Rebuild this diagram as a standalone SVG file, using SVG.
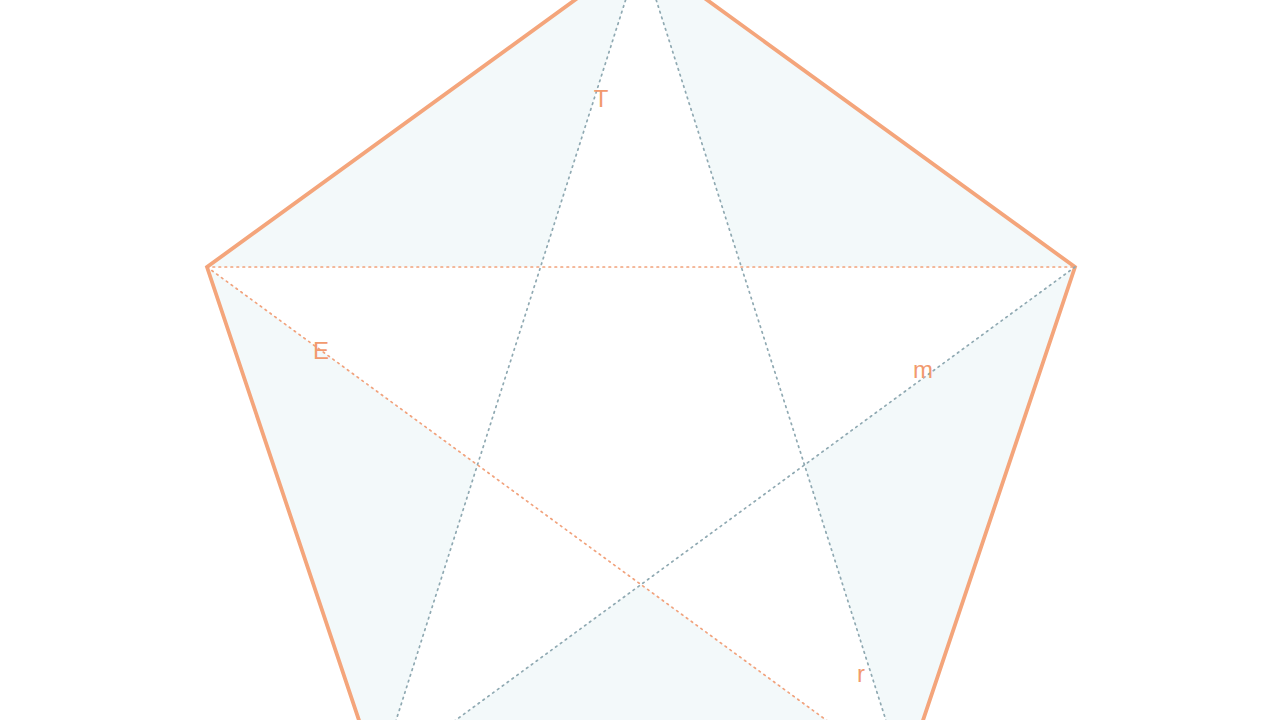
<svg xmlns="http://www.w3.org/2000/svg" width="1280" height="720" viewBox="0 0 1280 720">
<style>
.edge{fill:none;stroke:#f4a57b;stroke-width:3.8;stroke-linejoin:miter}
.dot{fill:none;stroke-width:1.7;stroke-dasharray:1.6 4.4;stroke-linecap:round}
.o{stroke:#f1a27c}
.g{stroke:#8fa9b2}
.lbl{font-family:"Liberation Sans",Arial,sans-serif;font-size:24px;fill:#f29a6e;text-anchor:middle}
</style>
<rect width="1280" height="720" fill="#ffffff"/>
<g id="pentagon">
<polygon points="641,-48 1075,267 904,777 378,777 207,267" fill="#f3f9fa"/>
<polygon points="641,-48 904,777 207,267 1075,267 378,777" fill="#ffffff" fill-rule="nonzero"/>
<polygon class="edge" points="641,-48 1075,267 904,777 378,777 207,267"/>
</g>
<g id="connectors">
<line class="dot g" x1="625.6" y1="0" x2="378" y2="777"/>
<line class="dot g" x1="656.2" y1="0" x2="904" y2="777"/>
<line class="dot o" x1="207" y1="267" x2="1075" y2="267"/>
<line class="dot o" x1="207" y1="267" x2="904" y2="777"/>
<line class="dot g" x1="1075" y1="267" x2="378" y2="777"/>
</g>
<g id="labels">
<text class="lbl" x="601" y="107">T</text>
<text class="lbl" x="321" y="359">E</text>
<text class="lbl" x="923" y="378">m</text>
<text class="lbl" x="861" y="682">r</text>
</g>
</svg>
